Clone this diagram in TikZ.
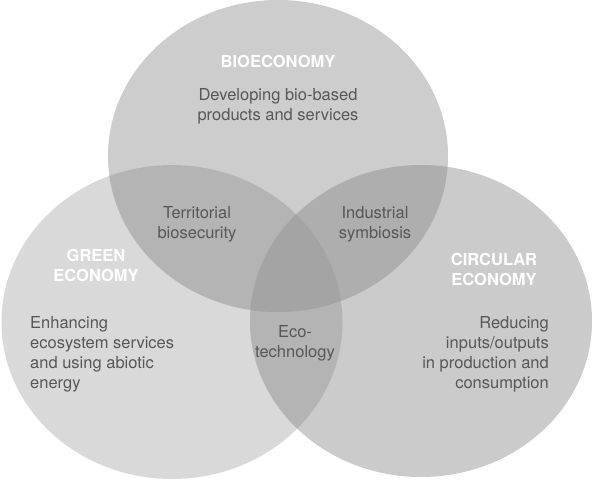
\documentclass[tikz,border=0pt]{standalone}
\usepackage{fontspec}
\setmainfont{TeX Gyre Heros}
\usetikzlibrary{shapes.geometric}
\definecolor{txt}{HTML}{575757}
\definecolor{cbio}{HTML}{CDCDCD}
\definecolor{cgreen}{HTML}{D9D9D9}
\definecolor{ccirc}{HTML}{CBCBCB}
\definecolor{cbg}{HTML}{B4B4B4}
\definecolor{cbc}{HTML}{AEAEAE}
\definecolor{cgc}{HTML}{B4B4B4}
\definecolor{call}{HTML}{A4A4A4}
\tikzset{
  venn/.style={ellipse, inner sep=0pt, draw=none},
  body/.style={text=txt, font=\fontsize{16.5}{20}\selectfont, align=center, inner sep=0pt},
  title/.style={text=white, font=\bfseries\fontsize{16.5}{20}\selectfont, align=center, inner sep=0pt}
}
\def\biopath{(278,156) ellipse [x radius=170, y radius=156]}
\def\greenpath{(172,322) ellipse [x radius=170.5, y radius=157]}
\def\circpath{(421,321) ellipse [x radius=171, y radius=156]}
\begin{document}
\begin{tikzpicture}[x=1pt,y=-1pt]
\fill[white] (0,0) rectangle (594,480);
\useasboundingbox (0,0) rectangle (594,480);
\node[venn, fill=cbio, minimum width=340pt, minimum height=312pt] (bio) at (278,156) {};
\node[venn, fill=cgreen, minimum width=341pt, minimum height=314pt] (green) at (172,322) {};
\node[venn, fill=ccirc, minimum width=342pt, minimum height=312pt] (circ) at (421,321) {};
\begin{scope}
  \clip \greenpath;
  \fill[cgc] \circpath;
\end{scope}
\begin{scope}
  \clip \biopath;
  \fill[cbg] \greenpath;
  \fill[cbc] \circpath;
  \clip \greenpath;
  \fill[call] \circpath;
\end{scope}
\node[title] (tbio) at (278,61) {BIOECONOMY};
\node[body] (dbio) at (278,106) {Developing bio-based\\products and services};
\node[body] (terr) at (197,224) {Territorial\\biosecurity};
\node[body] (ind) at (375,224) {Industrial\\symbiosis};
\node[title] (tgreen) at (96,265) {GREEN\\ECONOMY};
\node[title] (tcirc) at (494,269) {CIRCULAR\\ECONOMY};
\node[body, align=left, anchor=west] (dgreen) at (30,354) {Enhancing\\ecosystem services\\and using abiotic\\energy};
\node[body, align=right, anchor=east] (dcirc) at (549,354) {Reducing\\inputs/outputs\\in production and\\consumption};
\node[body] (eco) at (295,343) {Eco-\\technology};
\end{tikzpicture}
\end{document}
